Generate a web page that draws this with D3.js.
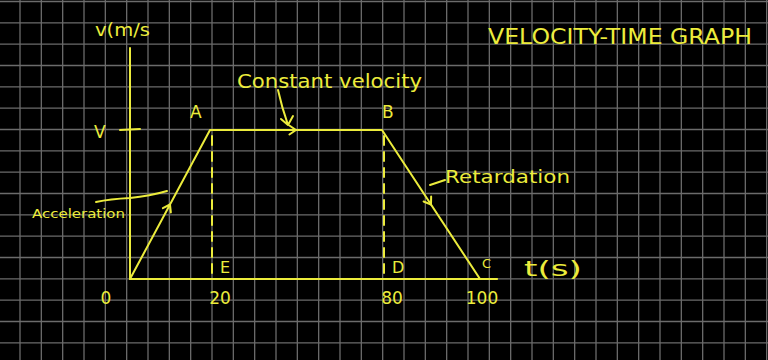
<!DOCTYPE html>
<html lang="en">
<head>
<meta charset="UTF-8">
<title>Velocity-Time Graph</title>
<style>
  body { margin: 0; background: #000; }
  .chart { display: block; }
  .grid line { stroke: #6b6b6b; stroke-width: 1.3; }
  .ink { stroke: #ecec3c; stroke-width: 2; fill: none; stroke-linecap: round; stroke-linejoin: round; }
  .chart text { fill: #ecec3c; font-family: "DejaVu Sans", sans-serif; }
</style>
</head>
<body>
<svg class="chart"></svg>
<script src="https://d3js.org/d3.v7.min.js"></script>
<script>

// key instants on the graph (s) and velocity there, in units of V
var times = [0, 20, 80, 100];
var velocity = [0, 1, 1, 0];
var cornerLabels = ["", "A", "B", "C"];
var footLabels = ["E", "D"];   // feet of the dashed drops from A and B
var tickLabels = ["0", "20", "80", "100"];

var width = 768,
    height = 360;

var svg = d3.select(".chart")
    .attr("width", width)
    .attr("height", height);

svg.append("rect").attr("width", width).attr("height", height).attr("fill", "#000");

// square grid paper
var cell = width / 36;
var grid = svg.append("g").attr("class", "grid");
grid.selectAll(".v").data(d3.range(20, width, cell)).enter().append("line")
    .attr("x1", function(d) { return d; }).attr("x2", function(d) { return d; })
    .attr("y1", 0).attr("y2", height);
grid.selectAll(".h").data(d3.range(1.5, height, cell)).enter().append("line")
    .attr("y1", function(d) { return d; }).attr("y2", function(d) { return d; })
    .attr("x1", 0).attr("x2", width);

// hand drawn sketch: time axis is not to scale, so a piecewise scale
var x = d3.scaleLinear()
    .domain(times)
    .range([130, 210, 382, 480]);

var y = d3.scaleLinear()
    .domain([0, 1])
    .range([279, 130]);

var pts = times.map(function(t, i) { return [t, velocity[i]]; });

// axes
svg.append("line").attr("class", "ink")
    .attr("x1", x(0)).attr("x2", x(0)).attr("y1", y(0)).attr("y2", y(1.55));
svg.append("line").attr("class", "ink")
    .attr("x1", x(0)).attr("x2", x(103.5)).attr("y1", y(0)).attr("y2", y(0));
// V tick
svg.append("line").attr("class", "ink")
    .attr("x1", x(0) - 10).attr("x2", x(0) + 10).attr("y1", y(1)).attr("y2", y(1) - 1);

// the trapezium O-A-B-C
var line = d3.line()
    .x(function(d) { return x(d[0]); })
    .y(function(d) { return y(d[1]); });
svg.append("path").attr("class", "ink").attr("d", line(pts));

// dashed drops A->E, B->D
svg.selectAll(".drop").data(pts.slice(1, 3)).enter().append("line")
    .attr("class", "ink")
    .attr("stroke-dasharray", "9,7")
    .attr("x1", function(d) { return x(d[0]) + 2; })
    .attr("x2", function(d) { return x(d[0]) + 2; })
    .attr("y1", function(d) { return y(d[1]) + 6; })
    .attr("y2", y(0));

// arrow heads halfway along each segment
function chevron(p, q, size) {
    var mx = (x(p[0]) + x(q[0])) / 2, my = (y(p[1]) + y(q[1])) / 2;
    var a = Math.atan2(y(q[1]) - y(p[1]), x(q[0]) - x(p[0]));
    var s = size || 8;
    return "M" + (mx - s * Math.cos(a - 0.6)) + "," + (my - s * Math.sin(a - 0.6)) +
        "L" + mx + "," + my +
        "L" + (mx - s * Math.cos(a + 0.6)) + "," + (my - s * Math.sin(a + 0.6));
}
for (var i = 0; i < pts.length - 1; i++) {
    svg.append("path").attr("class", "ink").attr("d", chevron(pts[i], pts[i + 1], 8));
}

// pointers for the annotations
svg.append("path").attr("class", "ink").attr("d", "M278,90 Q282,108 288,125 M281,119 L288,125 L293,116");
svg.append("path").attr("class", "ink").attr("d", "M96,202 Q110,199 130,198 Q150,196 167,191");
svg.append("path").attr("class", "ink").attr("d", "M430,185 L445,180");

// labels
function label(txt, tx, ty, size, len) {
    var t = svg.append("text")
        .attr("x", tx).attr("y", ty)
        .attr("font-size", size)
        .text(txt);
    if (len) t.attr("textLength", len).attr("lengthAdjust", "spacingAndGlyphs");
    return t;
}

label("VELOCITY-TIME GRAPH", 488, 44, 22, 264);
label("v(m/s", 95, 36, 17, 55);
label("V", 94, 138, 17);
label("Constant velocity", 237, 88, 20, 185);
label("Acceleration", 32, 218, 12, 93);
label("Retardation", 445, 183, 18, 125);
label("t(s)", 524, 276, 22, 58);

svg.selectAll(".corner").data(pts).enter().append("text")
    .attr("x", function(d, i) { return x(d[0]) + (i === 1 ? -20 : i === 3 ? 2 : 0); })
    .attr("y", function(d, i) { return y(d[1]) - (i === 3 ? 11 : 12); })
    .attr("font-size", function(d, i) { return i === 3 ? 13 : 17; })
    .text(function(d, i) { return cornerLabels[i]; });

svg.selectAll(".foot").data(times.slice(1, 3)).enter().append("text")
    .attr("x", function(d) { return x(d) + 10; })
    .attr("y", y(0) - 6)
    .attr("font-size", 16)
    .text(function(d, i) { return footLabels[i]; });

svg.selectAll(".tick").data(times).enter().append("text")
    .attr("x", function(d, i) { return i === 0 ? x(d) - 24 : x(d) + (i === 3 ? 2 : 10); })
    .attr("y", y(0) + 25)
    .attr("font-size", 17)
    .attr("text-anchor", function(d, i) { return i === 0 ? "middle" : "middle"; })
    .attr("dx", function(d, i) { return i === 0 ? 0 : 0; })
    .text(function(d, i) { return tickLabels[i]; });

</script>
</body>
</html>
